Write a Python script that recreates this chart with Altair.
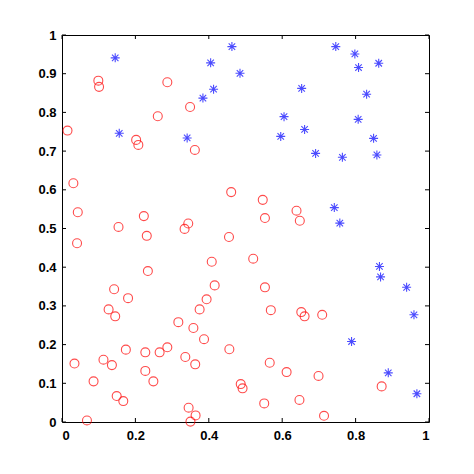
import altair as alt
import pandas as pd

# Red circles (class 1)
circle_x = [0.015, 0.099, 0.101, 0.287, 0.261, 0.349, 0.202, 0.208, 0.362, 0.031,
            0.043, 0.223, 0.461, 0.154, 0.344, 0.334, 0.041, 0.231, 0.455, 0.408,
            0.234, 0.416, 0.142, 0.180, 0.394, 0.127, 0.145, 0.375, 0.317, 0.358,
            0.387, 0.174, 0.287, 0.266, 0.227, 0.456, 0.113, 0.136, 0.034, 0.336,
            0.363, 0.227, 0.249, 0.086, 0.149, 0.167, 0.345, 0.364, 0.350, 0.068,
            0.487, 0.492, 0.547, 0.553, 0.639, 0.648, 0.521, 0.553, 0.569, 0.652,
            0.661, 0.709, 0.566, 0.612, 0.699, 0.871, 0.551, 0.647, 0.714]
circle_y = [0.753, 0.882, 0.866, 0.878, 0.790, 0.814, 0.729, 0.716, 0.703, 0.617,
            0.542, 0.532, 0.594, 0.504, 0.513, 0.499, 0.462, 0.481, 0.478, 0.414,
            0.390, 0.353, 0.343, 0.320, 0.317, 0.291, 0.273, 0.291, 0.258, 0.243,
            0.214, 0.187, 0.193, 0.180, 0.180, 0.188, 0.161, 0.147, 0.151, 0.168,
            0.149, 0.132, 0.105, 0.105, 0.067, 0.054, 0.037, 0.017, 0.001, 0.004,
            0.098, 0.087, 0.574, 0.527, 0.546, 0.520, 0.422, 0.348, 0.289, 0.284,
            0.273, 0.277, 0.153, 0.129, 0.119, 0.092, 0.048, 0.057, 0.016]

# Blue stars (class 2)
star_x = [0.145, 0.156, 0.341, 0.405, 0.413, 0.384, 0.463, 0.485, 0.653, 0.605,
          0.661, 0.596, 0.691, 0.764, 0.746, 0.798, 0.808, 0.863, 0.830, 0.807,
          0.849, 0.858, 0.742, 0.757, 0.865, 0.868, 0.939, 0.959, 0.789, 0.889,
          0.967]
star_y = [0.941, 0.746, 0.734, 0.928, 0.860, 0.837, 0.970, 0.901, 0.862, 0.789,
          0.756, 0.738, 0.694, 0.684, 0.970, 0.951, 0.916, 0.927, 0.847, 0.782,
          0.733, 0.690, 0.554, 0.514, 0.402, 0.375, 0.348, 0.277, 0.208, 0.127,
          0.073]

x_ticks = [0, 0.2, 0.4, 0.6, 0.8, 1]
y_ticks = [0, 0.1, 0.2, 0.3, 0.4, 0.5, 0.6, 0.7, 0.8, 0.9, 1]

W, H = 367, 387
TICK = 4
FONT = "Liberation Sans"

circles = pd.DataFrame({"x": circle_x, "y": circle_y})
stars = pd.DataFrame({"x": star_x, "y": star_y})
xt = pd.DataFrame({"x": x_ticks})
yt = pd.DataFrame({"y": y_ticks})

xscale = alt.Scale(domain=[0, 1], nice=False, zero=False)
yscale = alt.Scale(domain=[0, 1], nice=False, zero=False)

xaxis = alt.Axis(values=x_ticks, format="~g", ticks=False, domain=False, grid=False,
                 labelFont=FONT, labelFontSize=13, labelFontWeight="bold",
                 labelColor="black", labelPadding=7, title=None)
yaxis = alt.Axis(values=y_ticks, format="~g", ticks=False, domain=False, grid=False,
                 labelFont=FONT, labelFontSize=13, labelFontWeight="bold",
                 labelColor="black", labelPadding=6, title=None)

X = alt.X("x:Q", scale=xscale, axis=xaxis)
Y = alt.Y("y:Q", scale=yscale, axis=yaxis)

c = alt.Chart(circles).mark_point(
    shape="circle", size=80, color="#ff0000", filled=False, strokeWidth=1.1
).encode(x=X, y=Y)

star_path = "M-1,0L1,0M0,-1L0,1M-0.72,-0.72L0.72,0.72M-0.72,0.72L0.72,-0.72"
s = alt.Chart(stars).mark_point(
    shape=star_path, size=81, color="#0000ff", filled=False, strokeWidth=1.1
).encode(x=X, y=Y)

tb = alt.Chart(xt).mark_rule(color="black", strokeWidth=1).encode(
    x=X, y=alt.value(H), y2=alt.value(H - TICK))
tt = alt.Chart(xt).mark_rule(color="black", strokeWidth=1).encode(
    x=X, y=alt.value(0), y2=alt.value(TICK))
tl = alt.Chart(yt).mark_rule(color="black", strokeWidth=1).encode(
    y=Y, x=alt.value(0), x2=alt.value(TICK))
tr = alt.Chart(yt).mark_rule(color="black", strokeWidth=1).encode(
    y=Y, x=alt.value(W), x2=alt.value(W - TICK))

chart = alt.layer(c, s, tb, tt, tl, tr).properties(
    width=W, height=H,
    autosize=alt.AutoSizeParams(type="none"),
    padding={"left": 54, "top": 27, "right": 30, "bottom": 40},
    background="white",
).configure_view(stroke="black", strokeWidth=1)

chart.save("out.html", embed_options={"renderer": "svg", "actions": False})
